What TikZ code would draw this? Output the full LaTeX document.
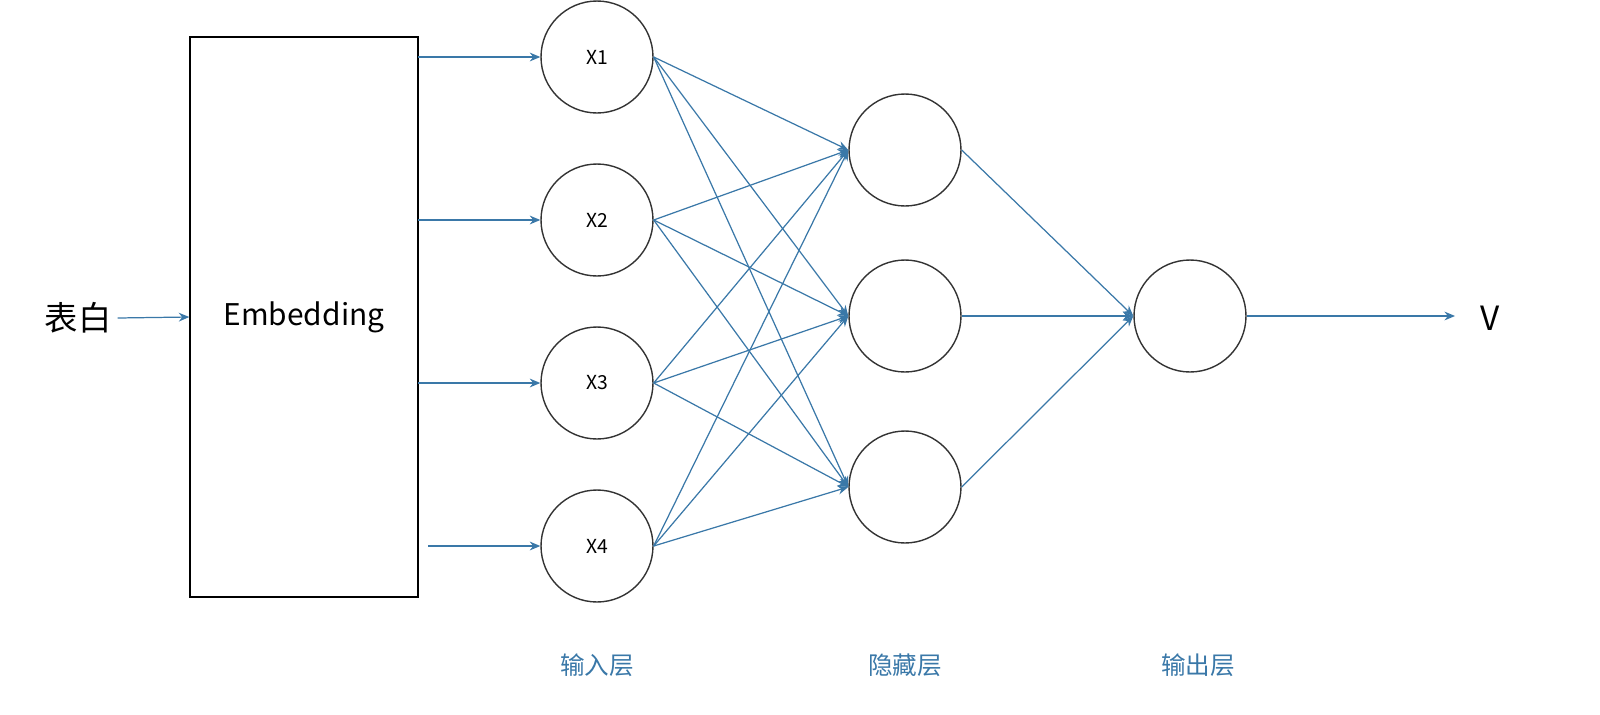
\documentclass[tikz,border=0pt]{standalone}
\usepackage{fontspec}
\setmainfont{Noto Sans CJK SC}
\usetikzlibrary{arrows.meta}
\definecolor{lb}{HTML}{3A78A8}
\begin{document}
\begin{tikzpicture}[x=0.02cm,y=-0.02cm,
  neuron/.style={circle,draw=black!80,line width=0.8pt,minimum size=2.24cm,inner sep=0pt,font=\fontsize{11}{13}\selectfont},
  conn/.style={draw=lb,line width=0.7pt,-{Stealth[length=6pt,width=5pt]}},
  lbl/.style={text=lb,font=\fontsize{14}{16}\selectfont}]
\useasboundingbox (0,0) rectangle (1600,714);
\node[draw=black,line width=0.8pt,minimum width=4.56cm,minimum height=11.2cm,inner sep=0pt,font=\fontsize{17}{20}\selectfont] (emb) at (304,317) {Embedding};
\node[font=\fontsize{19}{22}\selectfont] (in) at (78,318) {表白};
\draw[conn] (in.east) -- (emb.west);
\foreach \i/\y in {1/57,2/220,3/383,4/546}{
  \node[neuron] (x\i) at (597,\y) {X\i};
}
\foreach \i/\y in {1/57,2/220,3/383}{
  \coordinate (s\i) at (418,\y);
  \draw[conn] (s\i) -- (x\i.west);
}
\coordinate (s4) at (428,546);
\draw[conn] (s4) -- (x4.west);
\foreach \j/\y in {1/150,2/316,3/487}{
  \node[neuron] (h\j) at (905,\y) {};
}
\node[neuron] (o) at (1190,316) {};
\foreach \i in {1,...,4}{\foreach \j in {1,2,3}{\draw[conn] (x\i.east) -- (h\j.west);}}
\foreach \j in {1,2,3}{\draw[conn] (h\j.east) -- (o.west);}
\node[font=\fontsize{19}{22}\selectfont] (v) at (1490,318) {V};
\coordinate (ve) at (1455,316);
\draw[conn] (o.east) -- (ve);
\node[lbl] (l1) at (597,665) {输入层};
\node[lbl] (l2) at (905,665) {隐藏层};
\node[lbl] (l3) at (1198,665) {输出层};
\end{tikzpicture}
\end{document}
